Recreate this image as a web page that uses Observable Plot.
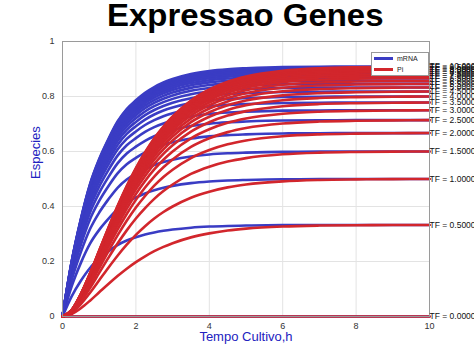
<!DOCTYPE html>
<html><head><meta charset="utf-8">
<script src="https://cdn.jsdelivr.net/npm/d3@7"></script>
<script src="https://cdn.jsdelivr.net/npm/@observablehq/plot@0.6"></script>
<style>
html,body{margin:0;padding:0;background:#fff;overflow:hidden}
#wrap{position:relative;width:474px;height:355px;font-family:"Liberation Sans",Arial,sans-serif;overflow:hidden}
#title{position:absolute;left:9px;top:-5.5px;width:474px;text-align:center;font-weight:bold;font-size:30.5px;line-height:40px;color:#000;z-index:2;transform:scaleX(1.08);transform-origin:246px 0}
#chart{position:absolute;left:0;top:0}
#legend{position:absolute;left:371px;top:52px;width:56px;height:22px;border:1px solid #999;background:#fff;font-size:7px;color:#222;z-index:2}
.li{position:absolute;left:2px;display:flex;align-items:center;line-height:9px}
.li span.sw{display:inline-block;width:19px;height:2.5px;margin-right:4px}
</style></head>
<body><div id="wrap"><div id="chart"></div><div id="title">Expressao Genes</div>
<div id="legend"><div class="li" style="top:1px"><span class="sw" style="background:#3a3cc4"></span>mRNA</div><div class="li" style="top:12px"><span class="sw" style="background:#d2262c"></span>Pi</div></div></div>
<script>
const tfValues = [0,0.5,1,1.5,2,2.5,3,3.5,4,4.5,5,5.5,6,6.5,7,7.5,8,8.5,9,9.5,10];
const plateau = [0,0.333,0.5,0.6,0.667,0.714,0.75,0.778,0.8,0.818,0.833,0.846,0.857,0.867,0.875,0.882,0.889,0.895,0.9,0.905,0.909];
const times = [0,0.25,0.5,0.75,1,1.25,1.5,1.75,2,2.25,2.5,2.75,3,3.5,4,4.5,5,6,7,8,9,10];
const mrnaFrac = [0,0.22,0.39,0.53,0.63,0.71,0.78,0.83,0.865,0.895,0.918,0.936,0.95,0.97,0.982,0.989,0.993,0.998,0.999,1,1,1];
const piFrac = [0,0.026,0.09,0.173,0.264,0.355,0.442,0.522,0.594,0.657,0.713,0.76,0.80,0.864,0.908,0.939,0.96,0.983,0.993,0.997,0.999,1];

const rows = [];
tfValues.forEach((tf,i)=>{
  times.forEach((t,j)=>{
    rows.push({tf, t, kind:"mRNA", v: plateau[i]*mrnaFrac[j]});
  });
});
tfValues.forEach((tf,i)=>{
  times.forEach((t,j)=>{
    rows.push({tf, t, kind:"Pi", v: plateau[i]*piFrac[j]});
  });
});
const labels = tfValues.map((tf,i)=>({tf, t:10, v:plateau[i], text:"TF = "+tf.toFixed(5)}));
const xTicks = [0,2,4,6,8,10];
const yTicks = [0,0.2,0.4,0.6,0.8,1];

const chart = Plot.plot({
  width:474, height:355,
  marginLeft:62, marginRight:45, marginTop:41, marginBottom:39,
  style:{fontFamily:"Liberation Sans, Arial, sans-serif", fontSize:"9px", color:"#333"},
  x:{domain:[0,10], label:null},
  y:{domain:[0,1], label:null},
  marks:[
    Plot.gridX(xTicks,{stroke:"#e3e3e3", strokeOpacity:1, strokeWidth:1}),
    Plot.gridY(yTicks,{stroke:"#e3e3e3", strokeOpacity:1, strokeWidth:1}),
    Plot.axisX(xTicks,{tickSize:0, tickPadding:6, fontSize:9, fill:"#333", label:null}),
    Plot.axisY(yTicks,{tickSize:0, tickPadding:8, fontSize:9, fill:"#333", tickFormat:d=>String(d), label:null}),
    Plot.line(rows.filter(d=>d.kind==="mRNA"),{x:"t", y:"v", z:"tf", stroke:"#3a3cc4", strokeWidth:2.6, curve:"monotone-x"}),
    Plot.line(rows.filter(d=>d.kind==="Pi"),{x:"t", y:"v", z:"tf", stroke:"#d2262c", strokeWidth:2.6, curve:"monotone-x"}),
    Plot.frame({stroke:"#9a9a9a", strokeWidth:1}),
    Plot.text(labels,{x:"t", y:"v", text:"text", textAnchor:"start", fontSize:8.5, fill:"#111"}),
    Plot.text(["Especies"],{frameAnchor:"left", dx:-27, rotate:-90, fontSize:13, fill:"#2222c0"}),
    Plot.text(["Tempo Cultivo,h"],{frameAnchor:"bottom", dy:24, fontSize:13, fill:"#2222c0"})
  ]
});
document.getElementById("chart").appendChild(chart);
</script></body></html>
